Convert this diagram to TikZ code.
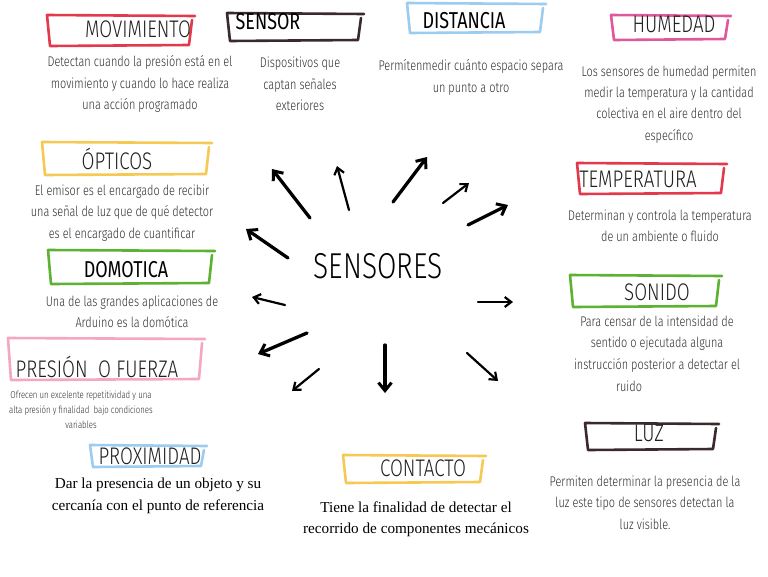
\documentclass[tikz,border=0pt]{standalone}
\usepackage{fontspec}
\newfontfamily\hand[FakeStretch=0.78]{Fira Sans Light}
\newfontfamily\handb[FakeStretch=0.78]{Fira Sans}
\setmainfont{Liberation Serif}
\usetikzlibrary{arrows.meta}
\definecolor{cred}{HTML}{E23A4C}
\definecolor{cdark}{HTML}{3A2A2C}
\definecolor{cblue}{HTML}{9CCCEF}
\definecolor{cmag}{HTML}{E0589C}
\definecolor{cyel}{HTML}{F6C955}
\definecolor{cgreen}{HTML}{5DB233}
\definecolor{cpink}{HTML}{F4A7C2}
\definecolor{ctext}{HTML}{2E2E2E}
\newcommand\sketchbox[5]{%
  \draw[#1, line width=2.6pt, line cap=round, line join=round]
    ({#4+3},{#3+1}) -- (#2,#3) -- ({#2+3},#5) -- ({#4-3},{#5-1}) -- (#4,{#3+5});}
\tikzset{
  ttl/.style={font=\hand\fontsize{24}{24}\selectfont, text=black!88, inner sep=0pt},
  ttlb/.style={font=\handb\fontsize{23}{23}\selectfont, text=black, inner sep=0pt},
  dsc/.style={font=\hand\fontsize{14}{21.3}\selectfont, text=ctext, align=center, inner sep=0pt},
  dscs/.style={font=\hand\fontsize{10}{15}\selectfont, text=ctext, align=center, inner sep=0pt},
  dscr/.style={font=\fontsize{15.2}{21.5}\selectfont, text=black, align=center, inner sep=0pt},
  arr/.style={line width=3.3pt, line cap=round, -{Straight Barb[length=8pt,width=13pt,line width=3pt]}},
  arrt/.style={line width=2.2pt, line cap=round, -{Straight Barb[length=6.5pt,width=10pt,line width=2.2pt]}},
}
\begin{document}
\begin{tikzpicture}[x=1pt,y=-1pt]
\useasboundingbox (0,0) rectangle (768,576);
\fill[white] (0,0) rectangle (768,576);

% boxes
\sketchbox{cred}{47}{15}{192}{46}
\sketchbox{cdark}{227}{13}{361}{41}
\sketchbox{cblue}{407}{3}{543}{33}
\sketchbox{cmag}{611}{15}{728}{40}
\sketchbox{cyel}{42}{142}{209}{175}
\sketchbox{cgreen}{48}{250}{212}{284}
\sketchbox{cred}{577}{163}{724}{194}
\sketchbox{cgreen}{570}{275}{719}{307}
\sketchbox{cpink}{8}{338}{202}{380}
\sketchbox{cblue}{90}{445}{204}{467}
\sketchbox{cyel}{343}{455}{483}{483}
\sketchbox{cdark}{585}{423}{716}{450}

% titles
\node[ttl]  (mov) at (138,29) {MOVIMIENTO};
\node[ttlb] (sen) at (268,22) {SENSOR};
\node[ttlb] (dis) at (464,21) {DISTANCIA};
\node[ttl]  (hum) at (674,24) {HUMEDAD};
\node[ttl]  (opt) at (117,159) {ÓPTICOS};
\node[ttlb] (dom) at (126,270) {DOMOTICA};
\node[ttl]  (tem) at (638,179) {TEMPERATURA};
\node[ttl]  (son) at (657,292) {SONIDO};
\node[ttl]  (pre) at (97,367) {PRESIÓN\ \ O FUERZA};
\node[ttl]  (pro) at (150,456) {PROXIMIDAD};
\node[ttl]  (con) at (423,468) {CONTACTO};
\node[ttl]  (luz) at (649,433) {LUZ};

% descriptions
\node[dsc] (dmov) at (140,84) {Detectan cuando la presión está en el\\movimiento y cuando lo hace realiza\\una acción programado};
\node[dsc] (dsen) at (300,84) {Dispositivos que\\captan señales\\exteriores};
\node[dsc] (ddis) at (471,77.5) {Permítenmedir cuánto espacio separa\\un punto a otro};
\node[dsc] (dhum) at (669,104.5) {Los sensores de humedad permiten\\medir la temperatura y la cantidad\\colectiva en el aire dentro del\\específico};
\node[dsc] (dopt) at (122,213) {El emisor es el encargado de recibir\\una señal de luz que de qué detector\\es el encargado de cuantificar};
\node[dsc] (ddom) at (132,311.5) {Una de las grandes aplicaciones de\\Arduino es la domótica};
\node[dsc] (dtem) at (660,225.5) {Determinan y controla la temperatura\\de un ambiente o fluido};
\node[dsc] (dson) at (657,344) {Para censar de la intensidad de\\sentido o ejecutada alguna\\instrucción posterior a detectar el};
\node[dsc] (dson2) at (629,386) {ruido};
\node[dscs] (dpre) at (81,410) {Ofrecen un excelente repetitividad y una\\alta presión y finalidad\ \ bajo condiciones\\variables};
\node[dscr] (dpro) at (158,496) {Dar la presencia de un objeto y su\\cercanía con el punto de referencia};
\node[dscr] (dcon) at (416,519.5) {Tiene la finalidad de detectar el\\recorrido de componentes mecánicos};
\node[dsc] (dluz) at (645,502.5) {Permiten determinar la presencia de la\\luz este tipo de sensores detectan la\\luz visible.};

% centre
\node[font=\hand\fontsize{36}{36}\selectfont, inner sep=0pt] (cen) at (378,266) {SENSORES};

% arrows
\coordinate (t1) at (310,218);  \coordinate (h1) at (272,169);
\coordinate (t2) at (349,210);  \coordinate (h2) at (337,166);
\coordinate (t3) at (393,202);  \coordinate (h3) at (427,157);
\coordinate (t4) at (443,203);  \coordinate (h4) at (469,183);
\coordinate (t5) at (468,225);  \coordinate (h5) at (508,205);
\coordinate (t6) at (288,258);  \coordinate (h6) at (246,229);
\coordinate (t7) at (285,305);  \coordinate (h7) at (252,297);
\coordinate (t8) at (478,302);  \coordinate (h8) at (513,302);
\coordinate (t9) at (307,333);  \coordinate (h9) at (258,354);
\coordinate (t10) at (319,369); \coordinate (h10) at (292,391);
\coordinate (t11) at (385,345); \coordinate (h11) at (385,393);
\coordinate (t12) at (467,353); \coordinate (h12) at (498,381);
\draw[arr]  (t1) -- (h1);
\draw[arrt] (t2) -- (h2);
\draw[arr]  (t3) -- (h3);
\draw[arrt] (t4) -- (h4);
\draw[arr]  (t5) -- (h5);
\draw[arr]  (t6) -- (h6);
\draw[arrt] (t7) -- (h7);
\draw[arrt] (t8) -- (h8);
\draw[arr]  (t9) -- (h9);
\draw[arrt] (t10) -- (h10);
\draw[arr]  (t11) -- (h11);
\draw[arrt] (t12) -- (h12);
\end{tikzpicture}
\end{document}
